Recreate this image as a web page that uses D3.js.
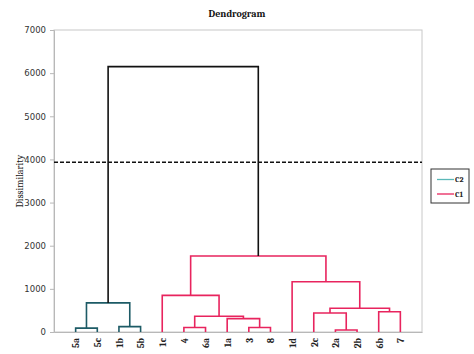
<!DOCTYPE html>
<html>
<head>
<meta charset="utf-8">
<script src="https://d3js.org/d3.v7.min.js"></script>
<style>
  body { margin: 0; background: #fff; }
  svg { display: block; }
</style>
</head>
<body>
<svg id="chart"></svg>
<script>
// leaves, in the order they appear on the x axis
const leaves = ['5a', '5c', '1b', '5b', '1c', '4', '6a', '1a', '3', '8', '1d', '2c', '2a', '2b', '6b', '7'];

// merges: [left, right, height, cluster] ; left/right are leaf names or merge ids "m#"
const merges = [
  ['5a', '5c', 90, 'C2'],     // m0
  ['1b', '5b', 125, 'C2'],    // m1
  ['m0', 'm1', 675, 'C2'],    // m2
  ['4', '6a', 105, 'C1'],     // m3
  ['3', '8', 105, 'C1'],      // m4
  ['1a', 'm4', 310, 'C1'],    // m5
  ['m3', 'm5', 365, 'C1'],    // m6
  ['1c', 'm6', 850, 'C1'],    // m7
  ['2a', '2b', 45, 'C1'],     // m8
  ['2c', 'm8', 440, 'C1'],    // m9
  ['6b', '7', 470, 'C1'],     // m10
  ['m9', 'm10', 550, 'C1'],   // m11
  ['1d', 'm11', 1165, 'C1'],  // m12
  ['m7', 'm12', 1760, 'C1'],  // m13
  ['m2', 'm13', 6150, 'root'] // m14
];

const cutLevel = 3935;
const yTicks = [0, 1000, 2000, 3000, 4000, 5000, 6000, 7000];
const clusters = ['C2', 'C1'];

const colors = { C2: '#1d5b66', C1: '#e8245e', root: '#111' };
const legendColors = { C2: '#5bb8b8', C1: '#e8245e' };

const width = 474, height = 354;
const margin = { top: 30, right: 52, bottom: 22, left: 54 };

const svg = d3.select('#chart').attr('width', width).attr('height', height);

const x = d3.scalePoint()
  .domain(leaves)
  .range([margin.left, width - margin.right])
  .padding(1);

const y = d3.scaleLinear()
  .domain([0, 7000])
  .range([height - margin.bottom, margin.top]);

// plot frame
svg.append('rect')
  .attr('x', margin.left).attr('y', margin.top)
  .attr('width', width - margin.right - margin.left)
  .attr('height', y(0) - margin.top)
  .attr('fill', 'none').attr('stroke', '#c8c8c8').attr('stroke-width', 1);

// y axis
const yAxis = d3.axisLeft(y).tickValues(yTicks).tickFormat(d3.format('d')).tickSize(4).tickPadding(4);
const yG = svg.append('g')
  .attr('transform', `translate(${margin.left},0)`)
  .call(yAxis);
yG.select('.domain').attr('stroke', '#b8b8b8');
yG.selectAll('.tick line').attr('stroke', '#b8b8b8');
yG.selectAll('.tick text')
  .attr('fill', '#333')
  .style('font-family', 'Verdana, "DejaVu Sans", sans-serif')
  .style('font-size', '8.5px');

// x axis (leaf labels)
const xAxis = d3.axisBottom(x).tickSize(0).tickPadding(6);
const xG = svg.append('g')
  .attr('transform', `translate(0,${y(0)})`)
  .call(xAxis);
xG.select('.domain').attr('stroke', '#b8b8b8');
xG.selectAll('.tick text')
  .attr('transform', 'rotate(-90)')
  .attr('x', -6).attr('y', 0).attr('dy', '0.35em')
  .style('text-anchor', 'end')
  .attr('fill', '#222')
  .style('font-family', 'Cambria, "DejaVu Serif", serif')
  .style('font-weight', 'bold')
  .style('font-size', '9.5px');

// compute node positions
const pos = {};
leaves.forEach(l => { pos[l] = { x: x(l), h: 0 }; });
merges.forEach((m, i) => {
  const a = pos[m[0]], b = pos[m[1]];
  pos['m' + i] = { x: (a.x + b.x) / 2, h: m[2] };
});

svg.append('g').selectAll('path')
  .data(merges)
  .join('path')
  .attr('d', m => {
    const a = pos[m[0]], b = pos[m[1]];
    return `M${a.x},${y(a.h)}V${y(m[2])}H${b.x}V${y(b.h)}`;
  })
  .attr('fill', 'none')
  .attr('stroke', m => colors[m[3]])
  .attr('stroke-width', 1.6);

// cut line
svg.append('line')
  .attr('x1', margin.left).attr('x2', width - margin.right)
  .attr('y1', y(cutLevel)).attr('y2', y(cutLevel))
  .attr('stroke', '#111').attr('stroke-width', 1.3)
  .attr('stroke-dasharray', '4,2');

// title
svg.append('text')
  .attr('x', 237).attr('y', 17)
  .attr('text-anchor', 'middle')
  .style('font-family', 'Cambria, "DejaVu Serif", serif')
  .style('font-weight', 'bold')
  .style('font-size', '10px')
  .attr('fill', '#111')
  .text('Dendrogram');

// y label
svg.append('text')
  .attr('transform', `translate(23,${(margin.top + y(0)) / 2}) rotate(-90)`)
  .attr('text-anchor', 'middle')
  .style('font-family', 'Cambria, "DejaVu Serif", serif')
  .style('font-size', '10px')
  .attr('fill', '#222')
  .text('Dissimilarity');

// legend
const lg = svg.append('g').attr('transform', 'translate(431,169)');
lg.append('rect')
  .attr('width', 38).attr('height', 34)
  .attr('fill', '#fff').attr('stroke', '#333').attr('stroke-width', 1);
clusters.forEach((c, i) => {
  const yy = 10.5 + i * 14.5;
  lg.append('line')
    .attr('x1', 6).attr('x2', 23).attr('y1', yy).attr('y2', yy)
    .attr('stroke', legendColors[c]).attr('stroke-width', 1.3);
  lg.append('text')
    .attr('x', 24).attr('y', yy).attr('dy', '0.35em')
    .style('font-family', 'Cambria, "DejaVu Serif", serif')
    .style('font-weight', 'bold')
    .style('font-size', '8px')
    .attr('fill', '#222')
    .text(c);
});
</script>
</body>
</html>
